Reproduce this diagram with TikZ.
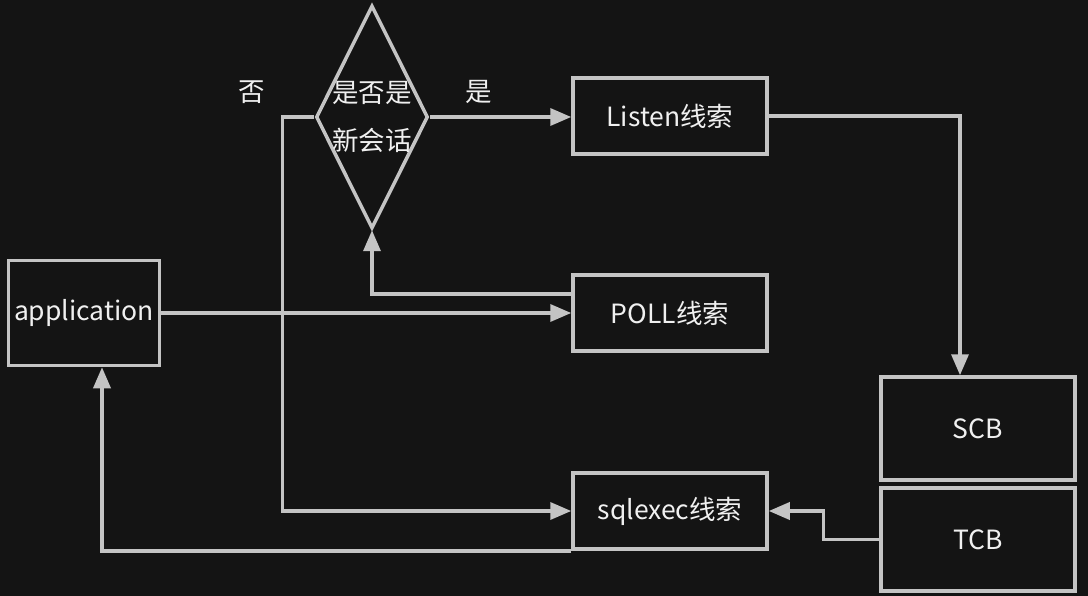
\documentclass[tikz,border=0pt]{standalone}
\usepackage{fontspec}
\setmainfont{Noto Sans CJK SC}
\usetikzlibrary{positioning,calc,shapes.geometric,arrows.meta}
\definecolor{bgcol}{HTML}{141414}
\definecolor{linecol}{HTML}{C4C4C4}
\definecolor{txtcol}{HTML}{F0F0F0}
\tikzset{
  box/.style={draw=linecol, fill=bgcol, line width=3.5pt, inner sep=0pt,
    minimum width=194pt, minimum height=76pt, text=txtcol},
  conn/.style={draw=linecol, line width=3.5pt,
    -{Triangle[length=21pt,width=17pt]}},
  lbl/.style={text=txtcol},
}
\begin{document}
\begin{tikzpicture}[x=1pt, y=-1pt, font=\fontsize{26.5}{48}\selectfont]
  \path[fill=bgcol] (0,0) rectangle (1088,596);
  \node[name=dec, shape=diamond, draw=linecol, line width=3.5pt, inner sep=0pt,
        minimum width=112pt, minimum height=223pt,
        label={[lbl, align=center]center:是否是\\新会话}] at (372,117) {};
  \node[name=listen, box] at (670,116) {Listen线索};
  \node[name=poll, box]   at (670,313) {POLL线索};
  \node[name=sql, box]    at (670,511) {sqlexec线索};
  \node[name=app, box, minimum width=151pt, minimum height=105pt] at (84,313) {application};
  \node[name=scb, box, minimum height=103pt] at (978,428.5) {SCB};
  \node[name=tcb, box, minimum height=103pt] at (978,539.5) {TCB};
  \node[lbl] at (252,92) {否};
  \node[lbl] at (479,92) {是};
  % connectors
  \draw[conn] (dec.east) -- (dec.east -| listen.west);
  \draw[conn] (dec.west) -- ++(-32,0) |- (sql.west);
  \draw[conn] (listen.east) -| ([xshift=-18pt]scb.north);
  \draw[conn] ([yshift=19pt]poll.west) -| (dec.south);
  \draw[conn] (app.east) -- (poll.west);
  \draw[conn] (tcb.west) -- ++(-56,0) |- (sql.east);
  \draw[conn] (sql.south west) -| ([xshift=18pt]app.south);
\end{tikzpicture}
\end{document}
